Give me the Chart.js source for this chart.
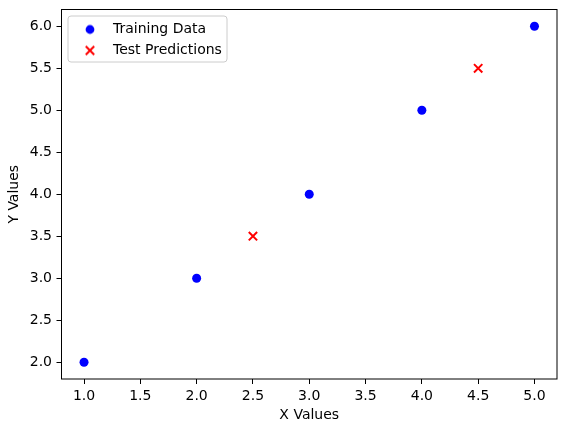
<!DOCTYPE html>
<html>
<head>
<meta charset="utf-8">
<script src="https://cdn.jsdelivr.net/npm/chart.js@4"></script>
<style>
  body { margin: 0; background: #fff; }
  canvas { display: block; }
</style>
</head>
<body>
<canvas id="myChart" width="567" height="432"></canvas>
<script>
// values
const trainX = [1, 2, 3, 4, 5];
const trainY = [2, 3, 4, 5, 6];
const testX = [2.5, 4.5];
const testY = [3.5, 5.5];
const xTicks = [1.0, 1.5, 2.0, 2.5, 3.0, 3.5, 4.0, 4.5, 5.0];
const yTicks = [2.0, 2.5, 3.0, 3.5, 4.0, 4.5, 5.0, 5.5, 6.0];

const FONT = 'DejaVu Sans';

// small marker pictures for the legend
function markerImage(kind, color) {
    const c = document.createElement('canvas');
    c.width = 14;
    c.height = 14;
    const g = c.getContext('2d');
    if (kind === 'circle') {
        g.fillStyle = color;
        g.beginPath();
        g.arc(7, 7, 4.4, 0, Math.PI * 2);
        g.fill();
    } else {
        g.strokeStyle = color;
        g.lineWidth = 2;
        g.beginPath();
        g.moveTo(2.8, 2.8); g.lineTo(11.2, 11.2);
        g.moveTo(11.2, 2.8); g.lineTo(2.8, 11.2);
        g.stroke();
    }
    return c;
}
const legendMarks = [markerImage('circle', '#0000ff'), markerImage('cross', '#ff0000')];

// matplotlib-like frame around plot and legend
const framePlugin = {
    id: 'frame',
    afterLayout(chart) {
        const lg = chart.legend;
        const a = chart.chartArea;
        lg.left = a.left + 5.5;
        lg.top = a.top + 6;
        lg.right = lg.left + lg.width;
        lg.bottom = lg.top + lg.height;
    },
    beforeDraw(chart) {
        const ctx = chart.ctx;
        const a = chart.chartArea;
        ctx.save();
        ctx.strokeStyle = '#000';
        ctx.lineWidth = 1;
        ctx.strokeRect(a.left, a.top, a.right - a.left, a.bottom - a.top);
        // legend box
        const bx = a.left + 6.5, by = a.top + 6.5, bw = 159, bh = 46, r = 3;
        ctx.beginPath();
        ctx.roundRect(bx, by, bw, bh, r);
        ctx.fillStyle = 'rgba(255,255,255,0.8)';
        ctx.fill();
        ctx.strokeStyle = '#cccccc';
        ctx.stroke();
        ctx.restore();
    }
};

// fixed axis boxes so the plot area lands where the reference has it
function fixBox(scale, size) {
    if (scale.isHorizontal()) scale.height = size;
    else scale.width = size;
    scale.paddingTop = 0;
    scale.paddingBottom = 0;
    scale.paddingLeft = 0;
    scale.paddingRight = 0;
}

const ctx = document.getElementById('myChart').getContext('2d');
new Chart(ctx, {
    type: 'scatter',
    data: {
        datasets: [{
            label: 'Training Data',
            data: trainX.map((x, i) => ({ x: x, y: trainY[i] })),
            pointStyle: 'circle',
            pointRadius: 4.5,
            pointBorderWidth: 0,
            backgroundColor: '#0000ff',
            borderColor: '#0000ff'
        }, {
            label: 'Test Predictions',
            data: testX.map((x, i) => ({ x: x, y: testY[i] })),
            pointStyle: 'crossRot',
            pointRadius: 5.9,
            pointBorderWidth: 2,
            backgroundColor: '#ff0000',
            borderColor: '#ff0000'
        }]
    },
    options: {
        responsive: false,
        animation: false,
        layout: { padding: { top: 9.5, right: 10, left: 0, bottom: 0 } },
        plugins: {
            tooltip: { enabled: false },
            legend: {
                position: 'chartArea',
                align: 'start',
                labels: {
                    usePointStyle: true,
                    pointStyleWidth: 32,
                    padding: 7,
                    color: '#000',
                    font: { family: FONT, size: 14 },
                    generateLabels: (chart) => Chart.defaults.plugins.legend.labels.generateLabels(chart)
                        .map((item, i) => Object.assign(item, { pointStyle: legendMarks[i] }))
                }
            }
        },
        scales: {
            x: {
                type: 'linear',
                min: 0.8,
                max: 5.2,
                afterBuildTicks: (scale) => { scale.ticks = xTicks.map(v => ({ value: v })); },
                afterFit: (scale) => fixBox(scale, 53),
                border: { display: false },
                grid: { drawOnChartArea: false, drawTicks: true, tickLength: 5, tickColor: '#000', tickWidth: 1 },
                ticks: {
                    color: '#000',
                    padding: 4,
                    maxRotation: 0,
                    autoSkip: false,
                    font: { family: FONT, size: 14 },
                    callback: (v) => v.toFixed(1)
                },
                title: {
                    display: true,
                    text: 'X Values',
                    color: '#000',
                    font: { family: FONT, size: 14, lineHeight: 1.2 },
                    padding: { top: 0, bottom: 8.4 }
                }
            },
            y: {
                type: 'linear',
                min: 1.8,
                max: 6.2,
                afterBuildTicks: (scale) => { scale.ticks = yTicks.map(v => ({ value: v })); },
                afterFit: (scale) => fixBox(scale, 61.5),
                border: { display: false },
                grid: { drawOnChartArea: false, drawTicks: true, tickLength: 5, tickColor: '#000', tickWidth: 1 },
                ticks: {
                    color: '#000',
                    padding: 4.5,
                    autoSkip: false,
                    font: { family: FONT, size: 14 },
                    callback: (v) => v.toFixed(1)
                },
                title: {
                    display: true,
                    text: 'Y Values',
                    color: '#000',
                    font: { family: FONT, size: 14, lineHeight: 1.2 },
                    padding: { top: 5.8, bottom: 0 }
                }
            }
        }
    },
    plugins: [framePlugin]
});
</script>
</body>
</html>
